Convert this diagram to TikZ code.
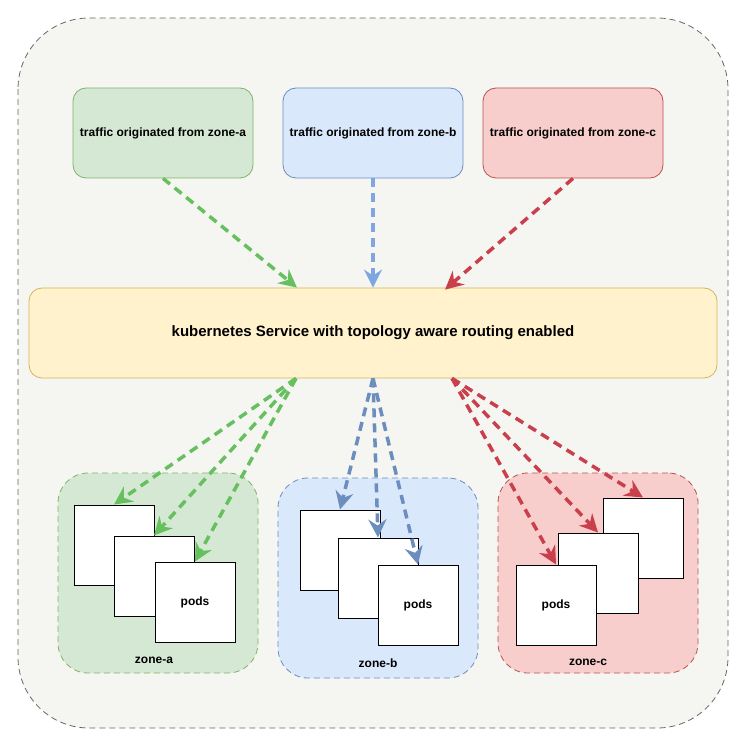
\documentclass[tikz,border=0pt]{standalone}
\usepackage{fontspec}
\setmainfont{Liberation Sans}
\usepackage{tikz}
\usetikzlibrary{positioning, arrows.meta, calc}
\definecolor{fondgris}{HTML}{F5F5F2}
\definecolor{bordgris}{HTML}{666666}
\definecolor{vertzone}{HTML}{D5E8D4}
\definecolor{vertbord}{HTML}{82B366}
\definecolor{vertfleche}{HTML}{67C05E}
\definecolor{bleuzone}{HTML}{DAE8FC}
\definecolor{bleubord}{HTML}{6C8EBF}
\definecolor{bleufleche}{HTML}{7EA6E0}
\definecolor{rougezone}{HTML}{F8CECC}
\definecolor{rougebord}{HTML}{B85450}
\definecolor{rougefleche}{HTML}{C9404C}
\definecolor{jaunezone}{HTML}{FFF2CC}
\definecolor{jaunebord}{HTML}{D6B656}

\tikzset{
  trafic/.style={draw, rounded corners=13pt, minimum width=180pt, minimum height=90pt,
    line width=0.8pt, font=\bfseries\fontsize{12}{14}\selectfont},
  zonebox/.style={draw, rounded corners=30pt, minimum width=200pt, minimum height=200pt,
    line width=0.8pt, dash pattern=on 6pt off 4pt},
  pod/.style={draw=black, fill=white, line width=1pt, minimum width=80pt, minimum height=80pt,
    font=\bfseries\fontsize{12}{14}\selectfont},
  fleche/.style={line width=3.5pt, dash pattern=on 9pt off 6pt,
    -{Stealth[length=18pt, width=18pt, inset=6pt]}},
  etiquette/.style={font=\bfseries\fontsize{12}{14}\selectfont}
}

\begin{document}
\begin{tikzpicture}[x=1pt, y=-1pt]
  \useasboundingbox (0,0) rectangle (748,746);
  % cadre du cluster
  \draw[fill=fondgris, draw=bordgris, line width=0.8pt, dash pattern=on 6pt off 4pt,
    rounded corners=71pt] (18,18) rectangle (728,728);

  % sources du trafic
  \node[trafic, fill=vertzone, draw=vertbord] (tra) at (163,133) {traffic originated from zone-a};
  \node[trafic, fill=bleuzone, draw=bleubord] (trb) at (373,133) {traffic originated from zone-b};
  \node[trafic, fill=rougezone, draw=rougebord] (trc) at (573,133) {traffic originated from zone-c};

  % le service
  \node[draw=jaunebord, fill=jaunezone, rounded corners=13pt, line width=0.8pt,
    minimum width=688pt, minimum height=90pt, font=\bfseries\fontsize{15}{18}\selectfont]
    (svc) at (373,333) {\raisebox{-2pt}{kubernetes Service with topology aware routing enabled}};
  \coordinate (ina) at ($(svc.north)+(-76,0)$);
  \coordinate (inc) at ($(svc.north)+(72,2)$);
  \coordinate (outa) at ($(svc.south)+(-77,0)$);
  \coordinate (outc) at ($(svc.south)+(79,0)$);

  % les zones
  \node[zonebox, fill=vertzone, draw=vertbord] (za) at (158,573) {};
  \node[zonebox, fill=bleuzone, draw=bleubord] (zb) at (378,578) {};
  \node[zonebox, fill=rougezone, draw=rougebord] (zc) at (598,573) {};
  \node[etiquette] (lza) at (154,660) {zone-a};
  \node[etiquette] (lzb) at (378,663) {zone-b};
  \node[etiquette] (lzc) at (588,662) {zone-c};

  % les pods
  \node[pod] (pa1) at (114,545) {};
  \node[pod] (pa2) at (154,576) {};
  \node[pod] (pa3) at (195,602) {pods};
  \node[pod] (pb1) at (340,550) {};
  \node[pod] (pb2) at (378,578) {};
  \node[pod] (pb3) at (418,605) {pods};
  \node[pod] (pc1) at (643,538) {};
  \node[pod] (pc2) at (598,573) {};
  \node[pod] (pc3) at (556,605) {pods};

  % trafic entrant
  \draw[fleche, vertfleche] (tra.south) -- (ina);
  \draw[fleche, bleufleche] (trb.south) -- (svc.north);
  \draw[fleche, rougefleche] (trc.south) -- (inc);

  % vers les pods de chaque zone
  \foreach \p in {pa1,pa2,pa3}
    \draw[fleche, vertfleche] (outa) -- (\p.north);
  \foreach \p in {pb1,pb2,pb3}
    \draw[fleche, bleubord] (svc.south) -- (\p.north);
  \foreach \p in {pc1,pc2,pc3}
    \draw[fleche, rougefleche] (outc) -- (\p.north);
\end{tikzpicture}
\end{document}
